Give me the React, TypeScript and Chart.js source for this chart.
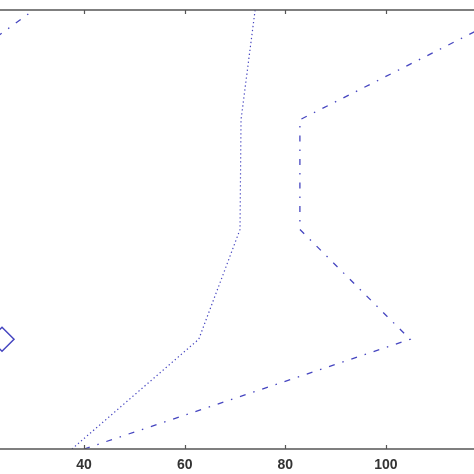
import { useEffect, useRef } from "react";
import { Chart, registerables } from "chart.js";

Chart.register(...registerables);

// row levels (y), bottom = 0, top border = 4
const levels = [0, 1, 2, 3, 4];
// x values per level
const dashDotX = [40, 104.8, 82.9, 82.9, 126.2];
const dottedX = [37.6, 62.8, 71.0, 71.2, 74.0];
const dashedX = [null, null, null, 0, 30];
const diamondX = [23.7];
const diamondLevel = [1];
const xTicks = [40, 60, 80, 100];

const X_MIN = 23.3;
const X_MAX = 117.5;
const LINE_COLOR = "#4646c0";
const AXIS_COLOR = "#555555";

const toPoints = (xs: (number | null)[], ys: number[]) =>
  xs.map((x, i) => ({ x: x as number, y: ys[i] })).filter((p) => p.x !== null);

// box lines + inward tick marks like a matlab axes
const framePlugin = {
  id: "frame",
  afterDraw(chart: Chart) {
    const { ctx, chartArea, width } = chart;
    const xScale = chart.scales.x;
    ctx.save();
    ctx.strokeStyle = AXIS_COLOR;
    ctx.lineWidth = 1.5;
    ctx.beginPath();
    ctx.moveTo(0, chartArea.top);
    ctx.lineTo(width, chartArea.top);
    ctx.moveTo(0, chartArea.bottom);
    ctx.lineTo(width, chartArea.bottom);
    ctx.stroke();
    ctx.lineWidth = 1.2;
    ctx.beginPath();
    xScale.ticks.forEach((t) => {
      const px = Math.round(xScale.getPixelForValue(t.value)) + 0.5;
      ctx.moveTo(px, chartArea.bottom);
      ctx.lineTo(px, chartArea.bottom - 4);
      ctx.moveTo(px, chartArea.top);
      ctx.lineTo(px, chartArea.top + 4);
    });
    ctx.stroke();
    ctx.restore();
  },
};

const App = () => {
  const canvasRef = useRef<HTMLCanvasElement>(null);

  useEffect(() => {
    if (!canvasRef.current) return;

    const chart = new Chart(canvasRef.current, {
      type: "scatter",
      data: {
        datasets: [
          {
            label: "dash-dot",
            data: toPoints(dashDotX, levels),
            showLine: true,
            borderColor: LINE_COLOR,
            borderWidth: 1.3,
            borderDash: [6, 8, 1.5, 8],
            pointRadius: 0,
          },
          {
            label: "dotted",
            data: toPoints(dottedX, levels),
            showLine: true,
            borderColor: LINE_COLOR,
            borderWidth: 1.2,
            borderDash: [1.3, 2.7],
            pointRadius: 0,
          },
          {
            label: "dashed",
            data: toPoints(dashedX, levels),
            showLine: true,
            borderColor: LINE_COLOR,
            borderWidth: 1.3,
            borderDash: [6, 8, 1.5, 8],
            pointRadius: 0,
          },
          {
            label: "diamond",
            data: toPoints(diamondX, diamondLevel),
            showLine: false,
            pointStyle: "rectRot",
            pointRadius: 12,
            pointBorderWidth: 1.5,
            pointBorderColor: LINE_COLOR,
            pointBackgroundColor: "rgba(0,0,0,0)",
            clip: 20,
          },
        ],
      },
      options: {
        animation: false,
        responsive: true,
        maintainAspectRatio: false,
        layout: { autoPadding: false, padding: { left: 0, right: 0, top: 10, bottom: 0 } },
        plugins: {
          legend: { display: false },
          tooltip: { enabled: false },
        },
        scales: {
          x: {
            type: "linear",
            min: X_MIN,
            max: X_MAX,
            afterBuildTicks: (scale) => {
              scale.ticks = xTicks.map((v) => ({ value: v }));
            },
            afterFit: (scale) => {
              scale.height = 25;
            },
            grid: { display: false, drawTicks: false },
            border: { display: false },
            ticks: {
              padding: 8,
              color: "#333333",
              font: { family: "'Liberation Sans', Arial, sans-serif", size: 14, weight: "bold" },
            },
          },
          y: {
            type: "linear",
            min: 0,
            max: 4,
            display: false,
          },
        },
      },
      plugins: [framePlugin],
    });

    return () => chart.destroy();
  }, []);

  return (
    <div style={{ position: "fixed", left: 0, top: 0, width: 474, height: 474, background: "#fff" }}>
      <canvas ref={canvasRef}></canvas>
    </div>
  );
};

export default App;
